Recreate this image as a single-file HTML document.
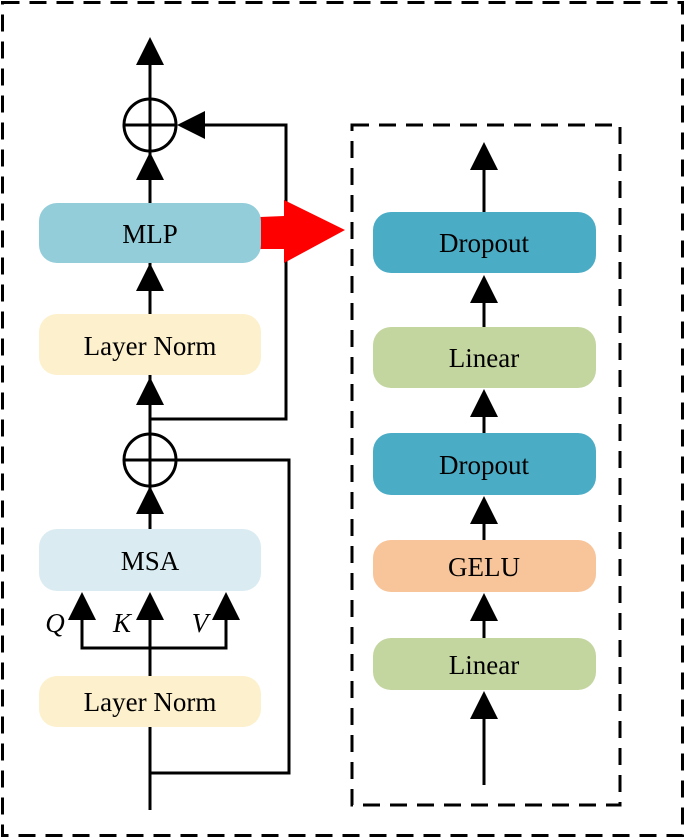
<!DOCTYPE html>
<html><head><meta charset="utf-8"><style>body{margin:0;background:#fff}svg{display:block}text{font-family:"Liberation Serif",serif;font-size:27px}</style></head><body>
<svg width="685" height="840" viewBox="0 0 685 840" xmlns="http://www.w3.org/2000/svg">
<rect x="2.5" y="2.5" width="680" height="833" fill="none" stroke="#000" stroke-width="3" stroke-dasharray="17,10"/>
<rect x="352" y="125" width="268" height="680" fill="none" stroke="#000" stroke-width="3" stroke-dasharray="17,10"/>
<g fill="none" stroke="#000" stroke-width="3">
<line x1="150" y1="60" x2="150" y2="203"/>
<circle cx="150" cy="125" r="26" fill="#fff"/>
<line x1="150" y1="99" x2="150" y2="151"/>
<line x1="124" y1="125" x2="176" y2="125"/>
<polyline points="200,125 286,125 286,419 150,419"/>
<line x1="150" y1="263" x2="150" y2="314"/>
<line x1="150" y1="375" x2="150" y2="530"/>
<circle cx="150" cy="460" r="26" fill="#fff"/>
<line x1="150" y1="434" x2="150" y2="486"/>
<line x1="124" y1="460" x2="176" y2="460"/>
<polyline points="176,460 289,460 289,773 150,773"/>
<line x1="150" y1="727" x2="150" y2="810"/>
<line x1="150" y1="610" x2="150" y2="676"/>
<polyline points="82,610 82,648 226,648 226,610"/>
<line x1="484" y1="160" x2="484" y2="212"/>
<line x1="484" y1="290" x2="484" y2="327"/>
<line x1="484" y1="400" x2="484" y2="433"/>
<line x1="484" y1="510" x2="484" y2="540"/>
<line x1="484" y1="605" x2="484" y2="638"/>
<line x1="484" y1="705" x2="484" y2="785"/>
</g>
<g fill="#000">
<polygon points="150,37 136,65 164,65"/>
<polygon points="150,152 136,180 164,180"/>
<polygon points="177,125 205,111 205,139"/>
<polygon points="150,263 136,291 164,291"/>
<polygon points="150,377 136,405 164,405"/>
<polygon points="150,486 136,514 164,514"/>
<polygon points="82,592 68,620 96,620"/>
<polygon points="150,592 136,620 164,620"/>
<polygon points="226,592 212,620 240,620"/>
<polygon points="484,142 470,170 498,170"/>
<polygon points="484,275 470,303 498,303"/>
<polygon points="484,389 470,417 498,417"/>
<polygon points="484,496 470,524 498,524"/>
<polygon points="484,593 470,621 498,621"/>
<polygon points="484,691 470,719 498,719"/>
</g>
<polygon points="260,217 284,216 284,200 345,230 284,263 284,249 260,249" fill="#ff0000"/>
<rect x="39" y="203" width="222" height="60" rx="18" fill="#93cdd9"/>
<rect x="39" y="314" width="222" height="61" rx="18" fill="#fdf0cc"/>
<rect x="39" y="529" width="222" height="62" rx="18" fill="#daecf2"/>
<rect x="39" y="676" width="222" height="51" rx="18" fill="#fdf0cc"/>
<rect x="373" y="212" width="223" height="61" rx="18" fill="#4bacc6"/>
<rect x="373" y="327" width="223" height="61" rx="18" fill="#c4d69f"/>
<rect x="373" y="433" width="223" height="62" rx="18" fill="#4bacc6"/>
<rect x="373" y="540" width="223" height="52" rx="18" fill="#f8c49a"/>
<rect x="373" y="638" width="223" height="52" rx="18" fill="#c4d69f"/>
<g text-anchor="middle" fill="#000">
<text x="150" y="243">MLP</text>
<text x="150" y="355">Layer Norm</text>
<text x="150" y="570">MSA</text>
<text x="150" y="711">Layer Norm</text>
<text x="484" y="252">Dropout</text>
<text x="484" y="367">Linear</text>
<text x="484" y="474">Dropout</text>
<text x="484" y="576">GELU</text>
<text x="484" y="674">Linear</text>
<g font-style="italic"><text x="55" y="632">Q</text><text x="122" y="632">K</text><text x="200" y="632">V</text></g>
</g>
</svg>
</body></html>
